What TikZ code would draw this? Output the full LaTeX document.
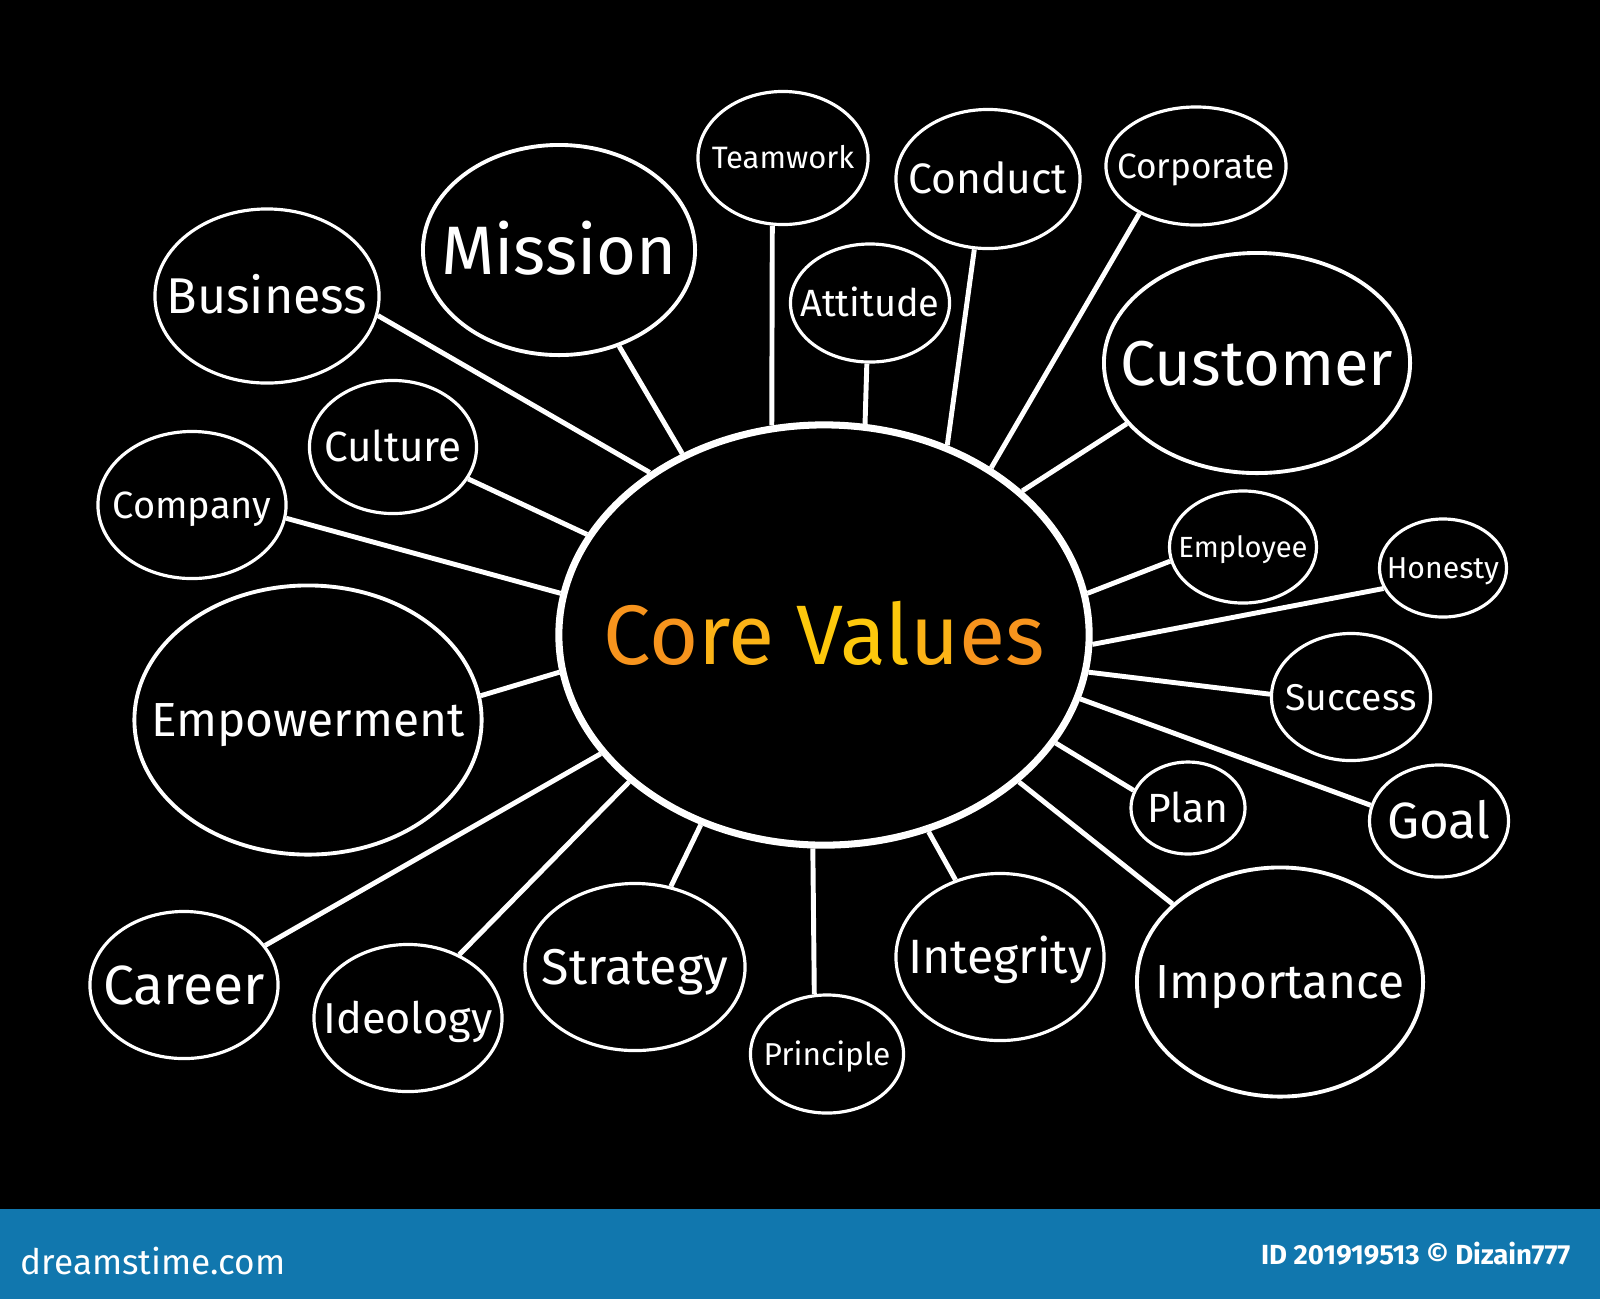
\documentclass[tikz,border=0pt]{standalone}
\usepackage{fontspec}
\setmainfont{Fira Sans}
\usetikzlibrary{shapes.geometric}
\definecolor{barblue}{HTML}{1177AE}
\definecolor{cvorange}{HTML}{F7941D}
\definecolor{cvgold}{HTML}{FBB317}
\definecolor{cvyellow}{HTML}{FDC80C}
% text that does not make the ellipse grow
\newcommand{\bubtext}[1]{\smash{\raisebox{-0.35em}{\makebox[0pt]{#1}}}}
\tikzset{
  bubble/.style={ellipse, draw=white, line width=0.9pt, inner sep=0pt, text=white},
  corebubble/.style={ellipse, draw=white, line width=2pt, inner sep=0pt},
  link/.style={draw=white, line width=1.4pt},
  txt/.style={font=\fontsize{#1}{#1}\selectfont}
}
\begin{document}
\begin{tikzpicture}[x=0.01cm, y=-0.01cm]
    \fill[black] (0,0) rectangle (1600,1299);
    \useasboundingbox (0,0) rectangle (1600,1299);
    \fill[barblue] (0,1209) rectangle (1600,1299);
    \node[corebubble, txt=24, minimum width=5.3cm, minimum height=4.2cm] (core) at (824,635) {\bubtext{\textcolor{cvorange}{Co}\textcolor{cvgold}{re} \textcolor{cvyellow}{Val}\textcolor{cvgold}{u}\textcolor{cvorange}{es}}};
    % top left
    \node[bubble, txt=14.3, minimum width=2.24cm, minimum height=1.74cm] (business) at (267,296) {\bubtext{Business}};
    \node[bubble, txt=19.5, line width=1.1pt, minimum width=2.72cm, minimum height=2.1cm] (mission) at (559,250) {\bubtext{Mission}};
    \node[bubble, txt=8.8, minimum width=1.7cm, minimum height=1.33cm] (teamwork) at (783,158) {\bubtext{Teamwork}};
    \node[bubble, txt=10.8, minimum width=1.59cm, minimum height=1.18cm] (attitude) at (870,303) {\bubtext{Attitude}};
    \node[bubble, txt=12.1, minimum width=1.84cm, minimum height=1.39cm] (conduct) at (988,179) {\bubtext{Conduct}};
    \node[bubble, txt=10, minimum width=1.8cm, minimum height=1.18cm] (corporate) at (1196,166) {\bubtext{Corporate}};
    \node[bubble, txt=18, line width=1.1pt, minimum width=3.06cm, minimum height=2.2cm] (customer) at (1257,363) {\bubtext{Customer}};
    \node[bubble, txt=12, minimum width=1.67cm, minimum height=1.33cm] (culture) at (393,447) {\bubtext{Culture}};
    \node[bubble, txt=10.8, minimum width=1.88cm, minimum height=1.47cm] (company) at (192,505) {\bubtext{Company}};
    % right side
    \node[bubble, txt=8.3, minimum width=1.47cm, minimum height=1.12cm] (employee) at (1243,547) {\bubtext{Employee}};
    \node[bubble, txt=8.6, minimum width=1.27cm, minimum height=0.98cm] (honesty) at (1443,568) {\bubtext{Honesty}};
    \node[bubble, txt=10.6, minimum width=1.59cm, minimum height=1.27cm] (success) at (1351,697) {\bubtext{Success}};
    \node[bubble, txt=11.6, minimum width=1.14cm, minimum height=0.92cm] (plan) at (1188,808) {\bubtext{Plan}};
    \node[bubble, txt=14.5, minimum width=1.39cm, minimum height=1.12cm] (goal) at (1439,821) {\bubtext{Goal}};
    \node[bubble, txt=13.6, line width=1.1pt, minimum width=2.86cm, minimum height=2.29cm] (importance) at (1280,982) {\bubtext{Importance}};
    % bottom and left
    \node[bubble, txt=13.6, line width=1.1pt, minimum width=3.47cm, minimum height=2.69cm] (empowerment) at (308,720) {\bubtext{Empowerment}};
    \node[bubble, txt=15.7, minimum width=1.88cm, minimum height=1.47cm] (career) at (184,985) {\bubtext{Career}};
    \node[bubble, txt=12.3, minimum width=1.88cm, minimum height=1.47cm] (ideology) at (408,1018) {\bubtext{Ideology}};
    \node[bubble, txt=14.3, minimum width=2.2cm, minimum height=1.67cm] (strategy) at (635,967) {\bubtext{Strategy}};
    \node[bubble, txt=9, minimum width=1.53cm, minimum height=1.18cm] (principle) at (827,1054) {\bubtext{Principle}};
    \node[bubble, txt=13.7, minimum width=2.08cm, minimum height=1.67cm] (integrity) at (1000,957) {\bubtext{Integrity}};
    % connectors
    \draw[link] (core.137.5) -- (business.-10);
    \draw[link] (core.128) -- (mission.-58);
    \draw[link] (core.104) -- (teamwork.-99);
    \draw[link] (core.79) -- (attitude.-93);
    \draw[link] (core.57) -- (conduct.-101);
    \draw[link] (core.45) -- (corporate.-140);
    \draw[link] (core.36) -- (customer.-155);
    \draw[link] (core.157) -- (culture.-23);
    \draw[link] (core.171) -- (company.-8);
    \draw[link] (core.9) -- (employee.-169);
    \draw[link] (core.-2) -- (honesty.-161);
    \draw[link] (core.-8) -- (success.178);
    \draw[link] (core.-14) -- (goal.167);
    \draw[link] (core.-25) -- (plan.162);
    \draw[link] (core.-37) -- (importance.144);
    \draw[link] (core.-62) -- (integrity.120);
    \draw[link] (core.-93) -- (principle.102);
    \draw[link] (core.-123) -- (strategy.66);
    \draw[link] (core.-143) -- (ideology.51);
    \draw[link] (core.-152) -- (career.26);
    \draw[link] (core.-172) -- (empowerment.8);
    % stock bar
    \node[text=white, anchor=west, inner sep=0pt, font=\fontsize{10}{12}\selectfont] (site) at (20,1261) {dreamstime.com};
    \node[text=white, anchor=east, inner sep=0pt, font=\bfseries\fontsize{7.85}{9}\selectfont] (credit) at (1571,1254) {ID 201919513 © Dizain777};
\end{tikzpicture}
\end{document}
